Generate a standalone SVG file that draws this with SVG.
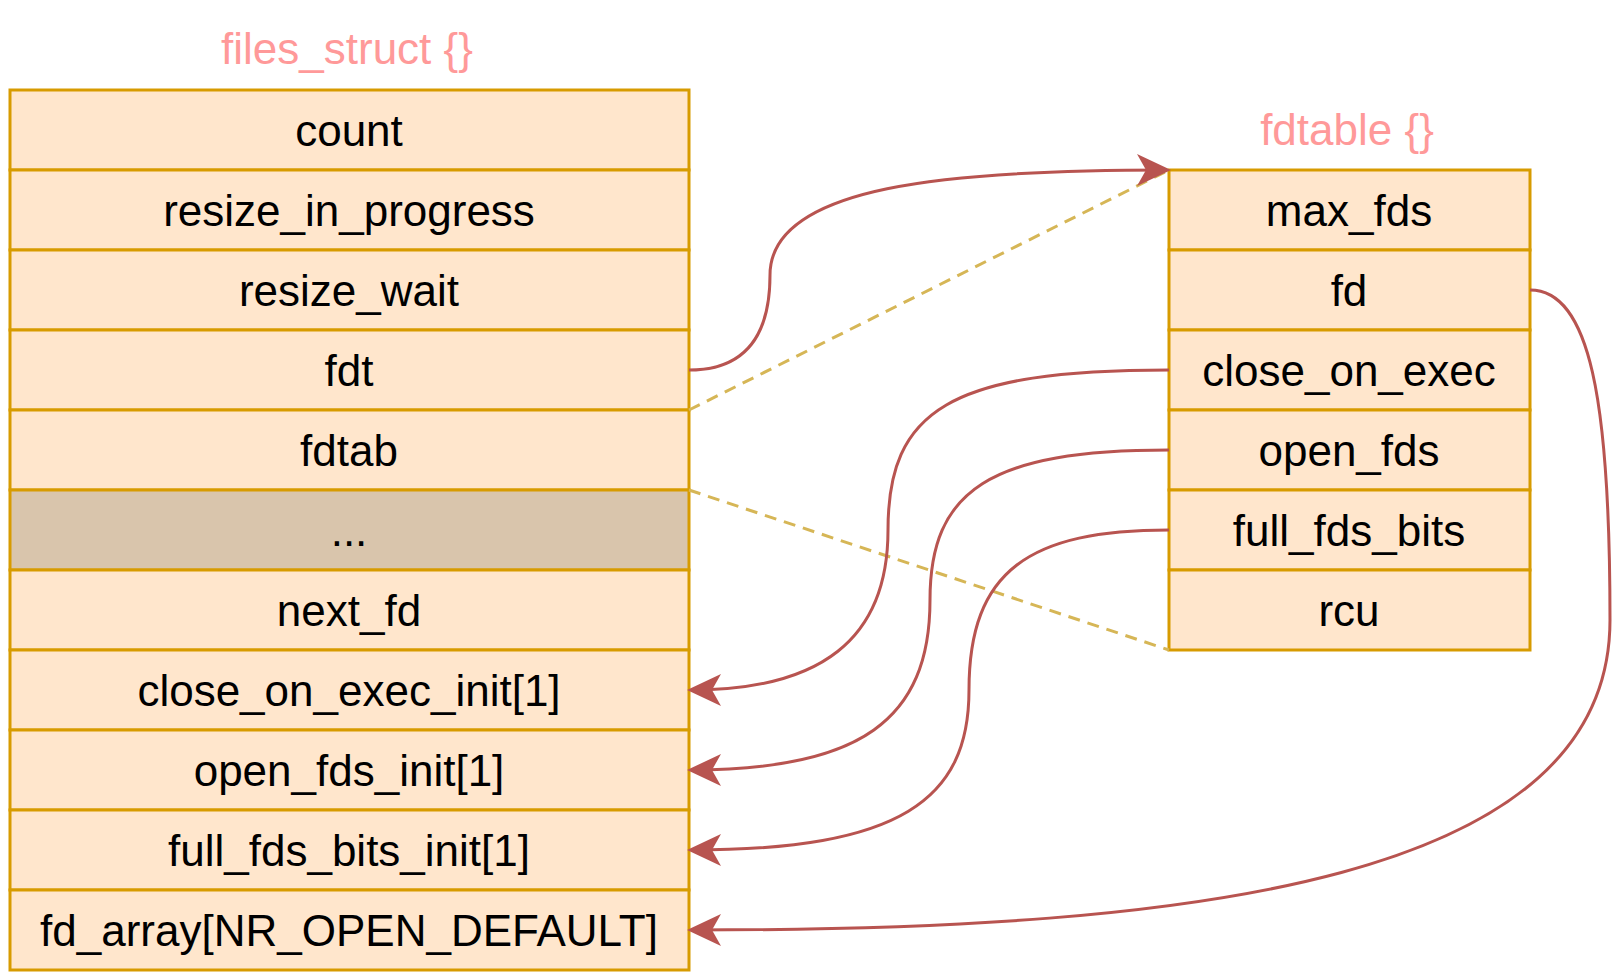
<svg xmlns="http://www.w3.org/2000/svg" width="1620" height="980" viewBox="0 0 1620 980">
<style>
.r{fill:#ffe6cc;stroke:#d79b00;stroke-width:3}
.g{fill:#d9c5ac;stroke:#d79b00;stroke-width:3}
.t{font-family:"Liberation Sans",Arial,sans-serif;font-size:44px;fill:#000;text-anchor:middle;dominant-baseline:central}
.h{font-family:"Liberation Sans",Arial,sans-serif;font-size:44px;fill:#ff9999;text-anchor:middle;dominant-baseline:central}
.e{fill:none;stroke:#b85450;stroke-width:3}
.d{fill:none;stroke:#d6b656;stroke-width:3;stroke-dasharray:12 8}
</style>
<defs><marker id="a" markerWidth="12" markerHeight="12" refX="10" refY="6" orient="auto" markerUnits="userSpaceOnUse" viewBox="0 0 12 12"><path d="M0,0 L12,6 L0,12 L3,6 Z" fill="#b85450"/></marker>
<marker id="b" markerWidth="36" markerHeight="36" refX="30" refY="18" orient="auto" markerUnits="userSpaceOnUse" viewBox="0 0 36 36"><path d="M0,2 L34,18 L0,34 L9,18 Z" fill="#b85450"/></marker></defs>
<g id="files_struct">
<text class="h" x="347" y="48">files_struct {}</text>
<rect class="r" x="10" y="90" width="679" height="80"/><text class="t" x="349" y="130">count</text>
<rect class="r" x="10" y="170" width="679" height="80"/><text class="t" x="349" y="210">resize_in_progress</text>
<rect class="r" x="10" y="250" width="679" height="80"/><text class="t" x="349" y="290">resize_wait</text>
<rect class="r" x="10" y="330" width="679" height="80"/><text class="t" x="349" y="370">fdt</text>
<rect class="r" x="10" y="410" width="679" height="80"/><text class="t" x="349" y="450">fdtab</text>
<rect class="g" x="10" y="490" width="679" height="80"/><text class="t" x="349" y="530">...</text>
<rect class="r" x="10" y="570" width="679" height="80"/><text class="t" x="349" y="610">next_fd</text>
<rect class="r" x="10" y="650" width="679" height="80"/><text class="t" x="349" y="690">close_on_exec_init[1]</text>
<rect class="r" x="10" y="730" width="679" height="80"/><text class="t" x="349" y="770">open_fds_init[1]</text>
<rect class="r" x="10" y="810" width="679" height="80"/><text class="t" x="349" y="850">full_fds_bits_init[1]</text>
<rect class="r" x="10" y="890" width="679" height="80"/><text class="t" x="349" y="930">fd_array[NR_OPEN_DEFAULT]</text>
</g>
<g id="fdtable">
<text class="h" x="1347" y="129">fdtable {}</text>
<rect class="r" x="1169" y="170" width="361" height="80"/><text class="t" x="1349" y="210">max_fds</text>
<rect class="r" x="1169" y="250" width="361" height="80"/><text class="t" x="1349" y="290">fd</text>
<rect class="r" x="1169" y="330" width="361" height="80"/><text class="t" x="1349" y="370">close_on_exec</text>
<rect class="r" x="1169" y="410" width="361" height="80"/><text class="t" x="1349" y="450">open_fds</text>
<rect class="r" x="1169" y="490" width="361" height="80"/><text class="t" x="1349" y="530">full_fds_bits</text>
<rect class="r" x="1169" y="570" width="361" height="80"/><text class="t" x="1349" y="610">rcu</text>
</g>
<g id="connectors">
<path class="d" d="M689,410 L1169,170"/>
<path class="d" d="M689,490 L1169,650"/>
<path class="e" marker-end="url(#b)" d="M689,370 C750,370 770,330 770,275 C770,185 950,170 1167,170"/>
<path class="e" marker-end="url(#b)" d="M1169,370 C950,370 888,410 888,530 C888,640 820,690 691,690"/>
<path class="e" marker-end="url(#b)" d="M1169,450 C990,450 930,490 930,600 C930,720 860,770 691,770"/>
<path class="e" marker-end="url(#b)" d="M1169,530 C1030,530 969,570 969,690 C969,800 900,850 691,850"/>
<path class="e" marker-end="url(#b)" d="M1530,290 C1590,290 1610,400 1610,620 C1610,880 1200,930 691,930"/>
</g>
</svg>
